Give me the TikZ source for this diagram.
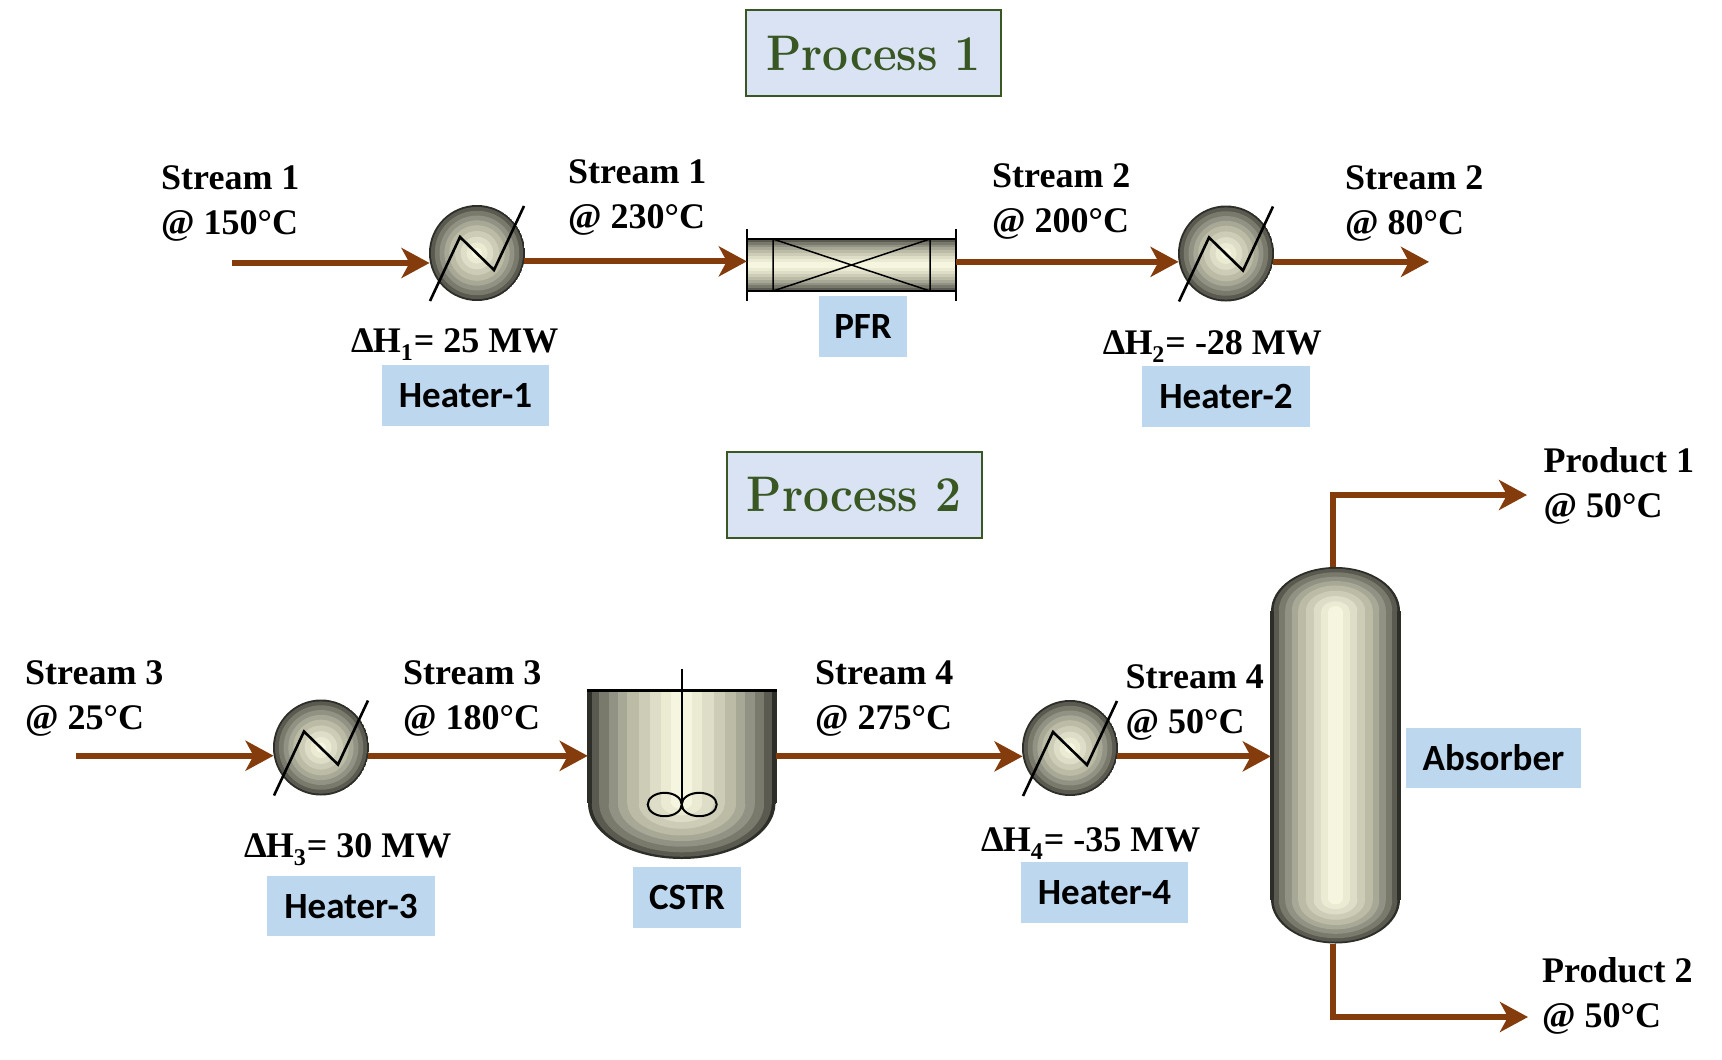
\documentclass[tikz,border=0pt]{standalone}
\usepackage{fontspec}
\usepackage{graphicx}
\usetikzlibrary{arrows.meta}
\newfontfamily\serifbody{Liberation Serif}
\newfontfamily\labelfont{Carlito}
\definecolor{flowc}{HTML}{843C0C}
\definecolor{tagc}{HTML}{BDD7EE}
\definecolor{titlefill}{HTML}{DAE3F3}
\definecolor{titlec}{HTML}{385723}
\definecolor{b0}{HTML}{2E2E28}
\definecolor{b1}{HTML}{5A5A50}
\definecolor{b2}{HTML}{7A7A6C}
\definecolor{b3}{HTML}{929284}
\definecolor{b4}{HTML}{A8A896}
\definecolor{b5}{HTML}{BBBBA6}
\definecolor{b6}{HTML}{CDCDB7}
\definecolor{b7}{HTML}{DEDEC8}
\definecolor{b8}{HTML}{EBEBD4}
\definecolor{b9}{HTML}{F6F6E0}
\def\bandlist{b0/1,b1/.96,b2/.88,b3/.78,b4/.68,b5/.58,b6/.46,b7/.34,b8/.22,b9/.11}
\tikzset{
  flow/.style={draw=flowc,line width=6pt,-{Stealth[length=28pt,width=30pt,inset=8pt]}},
  plainflow/.style={draw=flowc,line width=6pt},
  zigline/.style={draw=black,line width=2.6pt,line join=miter},
  heater/.style={circle,inner sep=0pt,minimum size=96pt,
    path picture={\foreach \cc/\ff in \bandlist {\fill[\cc] (path picture bounding box.center) circle ({\ff*48pt});}}},
  tag/.style={fill=tagc,inner sep=0pt,font=\labelfont\bfseries\fontsize{37}{40}\selectfont},
  title/.style={fill=titlefill,draw=titlec,line width=2pt,inner sep=0pt,text=titlec,
    minimum width=255pt,minimum height=86pt,font=\bfseries\fontsize{50}{54}\selectfont},
  stream/.style={anchor=base west,inner sep=0pt,font=\serifbody\bfseries\fontsize{36}{45}\selectfont},
  duty/.style={anchor=base west,inner sep=0pt,font=\serifbody\bfseries\fontsize{36}{45}\selectfont},
  equip/.style={inner sep=0pt,rectangle}
}
\newcommand{\twolines}[2]{\vtop{\baselineskip=45pt\hbox{#1}\hbox{#2}}}
\newcommand{\dutytext}[2]{$\mathstrut$\kern-0pt \textDelta H\raisebox{-8pt}{\fontsize{24}{24}\selectfont #1}\kern2pt#2}
\newcommand{\zig}[1]{\draw[zigline] ([shift={(-47,48)}]#1.center) -- ([shift={(-17,-16)}]#1.center) -- ([shift={(17,17)}]#1.center) -- ([shift={(47,-47)}]#1.center);}
\providecommand{\textDelta}{Δ}
\renewcommand{\textDelta}{Δ}
\begin{document}
\begin{tikzpicture}[x=1pt,y=-1pt]
\useasboundingbox (0,0) rectangle (1722,1060);
\fill[white] (0,0) rectangle (1722,1060);

% titles
\node[title] (t1) at (873.5,53) {\scalebox{.92}[1]{Process 1}};
\node[title] (t2) at (854,494.5) {\scalebox{.92}[1]{Process 2}};

% heaters
\node[heater] (h1) at (477,253) {};
\node[heater] (h2) at (1226,253.5) {};
\node[heater] (h3) at (321,747.5) {};
\node[heater] (h4) at (1070,748) {};
\zig{h1}\zig{h2}\zig{h3}\zig{h4}

% PFR
\foreach \cc/\ff in \bandlist {\fill[\cc] (747,{265-\ff*26}) rectangle (956,{265+\ff*26});}
\draw[line width=2.6pt] (747,239) -- (956,239) (747,291) -- (956,291);
\draw[line width=1.8pt] (747,229) -- (747,301) (956,229) -- (956,301);
\draw[line width=1.5pt] (773,239) -- (773,291) (930,239) -- (930,291) (773,239) -- (930,291) (773,291) -- (930,239);
\node[equip,minimum width=209pt,minimum height=72pt] (pfr) at (851.5,265) {};

% CSTR
\begin{scope}
\clip (588,803) rectangle (775.5,860);
\foreach \cc/\ff in \bandlist {\fill[\cc] (681.7,803) ellipse [x radius={\ff*93.8},y radius={\ff*56}];}
\end{scope}
\foreach \cc/\ff in \bandlist {\fill[\cc] ({681.7-\ff*93.8},690) rectangle ({681.7+\ff*93.8},803.5);}
\draw[line width=2.5pt,draw=b0] (588,690) -- (588,803) (775.5,690) -- (775.5,803);
\draw[line width=3pt] (587,690) -- (776.5,690);
\draw[line width=2pt] (681.7,669) -- (681.7,804);
\draw[line width=2pt] (664.7,804.5) ellipse [x radius=17,y radius=11.7] (699.2,804.5) ellipse [x radius=17.5,y radius=11.7];
\node[equip,minimum width=187.5pt,minimum height=169pt] (cstr) at (681.7,775) {};

% Absorber
\begin{scope}
\clip (1271,567) rectangle (1400,611.5);
\foreach \cc/\ff in \bandlist {\fill[\cc] (1335.5,611) ellipse [x radius={\ff*64.5},y radius={\ff*44}];}
\end{scope}
\begin{scope}
\clip (1271,899) rectangle (1400,944);
\foreach \cc/\ff in \bandlist {\fill[\cc] (1335.5,899.5) ellipse [x radius={\ff*64.5},y radius={\ff*44}];}
\end{scope}
\foreach \cc/\ff in \bandlist {\fill[\cc] ({1335.5-\ff*64.5},611) rectangle ({1335.5+\ff*64.5},899.5);}
\draw[line width=2.5pt,draw=b0] (1271,611) -- (1271,899.5) (1400,611) -- (1400,899.5);
\node[equip,minimum width=129pt,minimum height=377pt] (abs) at (1335.5,755.5) {};

% tags
\node[tag,minimum width=167pt,minimum height=61pt] (l1) at (465.5,395.5) {Heater-1};
\node[tag,minimum width=88pt,minimum height=61pt] (l2) at (863,326.5) {PFR};
\node[tag,minimum width=168pt,minimum height=61pt] (l3) at (1226,396.5) {Heater-2};
\node[tag,minimum width=168pt,minimum height=60pt] (l4) at (351,906) {Heater-3};
\node[tag,minimum width=108pt,minimum height=61pt] (l5) at (687,897.5) {CSTR};
\node[tag,minimum width=167pt,minimum height=61pt] (l6) at (1104.5,892.5) {Heater-4};
\node[tag,minimum width=175pt,minimum height=60pt] (l7) at (1493.5,758) {Absorber};

% stream labels
\node[stream] (a1) at (161,189) {\twolines{Stream 1}{@ 150°C}};
\node[stream] (a2) at (568,183) {\twolines{Stream 1}{@ 230°C}};
\node[stream] (a3) at (992,187) {\twolines{Stream 2}{@ 200°C}};
\node[stream] (a4) at (1345,189) {\twolines{Stream 2}{@ 80°C}};
\node[stream] (a5) at (1543.5,472) {\twolines{Product 1}{@ 50°C}};
\node[stream] (a6) at (25,684) {\twolines{Stream 3}{@ 25°C}};
\node[stream] (a7) at (403,684) {\twolines{Stream 3}{@ 180°C}};
\node[stream] (a8) at (815,684) {\twolines{Stream 4}{@ 275°C}};
\node[stream] (a9) at (1125.5,688) {\twolines{Stream 4}{@ 50°C}};
\node[stream] (a10) at (1542,982.5) {\twolines{Product 2}{@ 50°C}};

% duties
\node[duty] (d1) at (351,352) {Δ\kern-1ptH\raisebox{-8pt}{\fontsize{24}{24}\selectfont 1}\kern1pt= 25 MW};
\node[duty] (d2) at (1102.7,354) {Δ\kern-1ptH\raisebox{-8pt}{\fontsize{24}{24}\selectfont 2}\kern1pt= -28 MW};
\node[duty] (d3) at (244,857) {Δ\kern-1ptH\raisebox{-8pt}{\fontsize{24}{24}\selectfont 3}\kern1pt= 30 MW};
\node[duty] (d4) at (981,851) {Δ\kern-1ptH\raisebox{-8pt}{\fontsize{24}{24}\selectfont 4}\kern1pt= -35 MW};

% connectors
\coordinate (s1) at (232,263);
\coordinate (e2) at (1429,262);
\coordinate (s3) at (76,755.7);
\coordinate (p1) at (1527,495);
\coordinate (p2) at (1528,1017);
\coordinate (outt) at (1332.7,567);
\coordinate (outb) at (1332.7,944);
\draw[flow] (s1) -- (s1 -| h1.190);
\draw[flow] (h1.350) -- (h1.350 -| pfr.west);
\draw[flow] (h2.190 -| pfr.east) -- (h2.190);
\draw[flow] (h2.350) -- (h2.350 -| e2);
\draw[flow] (s3) -- (s3 -| h3.190);
\draw[flow] (h3.350) -- (h3.350 -| cstr.west);
\draw[flow] (h4.190 -| cstr.east) -- (h4.190);
\draw[flow] (h4.350) -- (h4.350 -| abs.west);
\draw[flow] (outt) |- (p1);
\draw[flow] (outb) |- (p2);
\end{tikzpicture}
\end{document}
